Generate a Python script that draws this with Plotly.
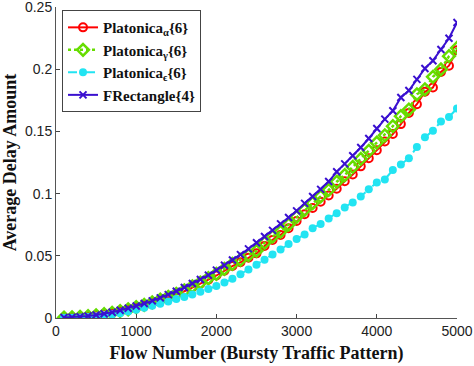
import plotly.graph_objects as go

flow = list(range(100, 5001, 100))

platonica_alpha = [0.0003, 0.0005, 0.0009, 0.0014, 0.0021, 0.0030, 0.0040, 0.0053, 0.0067, 0.0083,
                   0.0100, 0.0120, 0.0142, 0.0165, 0.0190, 0.0215, 0.0245, 0.0275, 0.0308, 0.0342,
                   0.0380, 0.0418, 0.0448, 0.0485, 0.0520, 0.0580, 0.0628, 0.0668, 0.0722, 0.0780,
                   0.0835, 0.0885, 0.0935, 0.0985, 0.1040, 0.1100, 0.1155, 0.1220, 0.1285, 0.1350,
                   0.1420, 0.1480, 0.1560, 0.1650, 0.1720, 0.1820, 0.1854, 0.1980, 0.2030, 0.2155]

platonica_gamma = [0.0004, 0.0006, 0.0010, 0.0015, 0.0022, 0.0031, 0.0042, 0.0056, 0.0070, 0.0087,
                   0.0105, 0.0125, 0.0147, 0.0170, 0.0195, 0.0222, 0.0255, 0.0285, 0.0320, 0.0355,
                   0.0395, 0.0435, 0.0468, 0.0505, 0.0540, 0.0605, 0.0655, 0.0695, 0.0752, 0.0814,
                   0.0870, 0.0925, 0.0978, 0.1030, 0.1096, 0.1150, 0.1215, 0.1280, 0.1345, 0.1410,
                   0.1470, 0.1543, 0.1624, 0.1677, 0.1800, 0.1840, 0.1940, 0.2000, 0.2106, 0.2173]

platonica_eps = [0.0002, 0.0003, 0.0005, 0.0008, 0.0013, 0.0020, 0.0029, 0.0039, 0.0052, 0.0067,
                 0.0082, 0.0098, 0.0115, 0.0133, 0.0152, 0.0168, 0.0190, 0.0212, 0.0234, 0.0257,
                 0.0285, 0.0315, 0.0352, 0.0390, 0.0428, 0.0468, 0.0510, 0.0552, 0.0595, 0.0635,
                 0.0672, 0.0722, 0.0757, 0.0800, 0.0842, 0.0888, 0.0930, 0.0978, 0.1035, 0.1090,
                 0.1115, 0.1190, 0.1235, 0.1285, 0.1375, 0.1455, 0.1506, 0.1580, 0.1618, 0.1686]

frectangle = [0.0004, 0.0006, 0.0010, 0.0016, 0.0024, 0.0034, 0.0046, 0.0062, 0.0078, 0.0096,
              0.0116, 0.0138, 0.0162, 0.0188, 0.0215, 0.0245, 0.0277, 0.0310, 0.0345, 0.0385,
              0.0425, 0.0467, 0.0510, 0.0556, 0.0605, 0.0655, 0.0705, 0.0757, 0.0808, 0.0862,
              0.0922, 0.0977, 0.1035, 0.1098, 0.1176, 0.1240, 0.1305, 0.1372, 0.1444, 0.1525,
              0.1600, 0.1667, 0.1774, 0.1830, 0.1920, 0.2007, 0.2070, 0.2160, 0.2250, 0.2377]

names = ["Platonica<sub>α</sub>{6}", "Platonica<sub>γ</sub>{6}",
         "Platonica<sub>ϵ</sub>{6}", "FRectangle{4}"]

x_ticks = [0, 1000, 2000, 3000, 4000, 5000]
y_ticks = [0, 0.05, 0.1, 0.15, 0.2, 0.25]
y_tick_text = ["0", "0.05", "0.1", "0.15", "0.2", "0.25"]

fig = go.Figure()
fig.add_trace(go.Scatter(x=flow, y=platonica_alpha, name=names[0], mode="lines+markers",
                         line=dict(color="#FF0000", width=2),
                         marker=dict(symbol="circle-open", size=8, color="#FF0000",
                                     line=dict(width=2, color="#FF0000"))))
fig.add_trace(go.Scatter(x=flow, y=platonica_gamma, name=names[1], mode="lines+markers",
                         line=dict(color="#66DD00", width=2.5, dash="dot"),
                         marker=dict(symbol="diamond-open", size=9, color="#66DD00",
                                     line=dict(width=2.5, color="#66DD00"))))
fig.add_trace(go.Scatter(x=flow, y=platonica_eps, name=names[2], mode="lines+markers",
                         line=dict(color="#22E4F2", width=2, dash="dash"),
                         marker=dict(symbol="circle", size=8, color="#22E4F2")))
fig.add_trace(go.Scatter(x=flow, y=frectangle, name=names[3], mode="lines+markers",
                         line=dict(color="#3A10D0", width=2),
                         marker=dict(symbol="x-thin", size=7, color="#3A10D0",
                                     line=dict(width=2, color="#3A10D0"))))

axis_font = dict(family="Liberation Serif", size=18, color="#111111")
tick_font = dict(family="Liberation Sans", size=14, color="#222222")

fig.update_layout(
    width=474, height=366,
    margin=dict(l=56, r=17, t=7, b=48, autoexpand=False),
    paper_bgcolor="white", plot_bgcolor="white",
    showlegend=True,
    legend=dict(x=0.015, y=0.99, xanchor="left", yanchor="top",
                bgcolor="white", bordercolor="#444444", borderwidth=1,
                font=dict(family="Liberation Serif", size=15, color="#111111"),
                tracegroupgap=0, itemwidth=30),
    xaxis=dict(range=[0, 5000], tickvals=x_ticks, ticks="inside", ticklen=4,
               showline=True, linecolor="#555555", linewidth=1, showgrid=False, zeroline=False,
               tickfont=tick_font, mirror=False, ticklabeloverflow="allow",
               title=dict(text="<b>Flow Number (Bursty Traffic Pattern)</b>", font=axis_font, standoff=8)),
    yaxis=dict(range=[0, 0.2502], tickvals=y_ticks, ticktext=y_tick_text, ticks="inside", ticklen=4,
               showline=True, linecolor="#555555", linewidth=1, showgrid=False, zeroline=False,
               tickfont=tick_font, ticklabeloverflow="allow",
               title=dict(text="<b>Average Delay Amount</b>", font=axis_font, standoff=4)),
)
fig.for_each_trace(lambda t: t.update(name="<b>" + t.name + "</b>"))

fig.write_html("out.html", config={"displayModeBar": False},
               post_script="document.body.style.margin='0';document.body.style.padding='0';")
